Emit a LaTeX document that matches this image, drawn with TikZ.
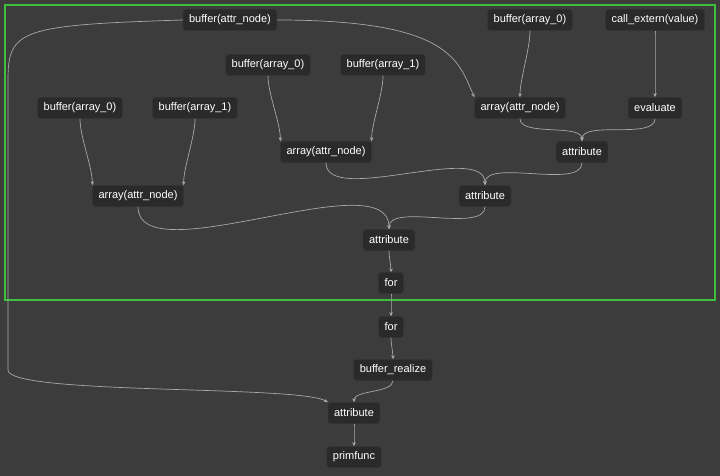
\documentclass[tikz,border=0pt]{standalone}
\usepackage{fontspec}
\setmainfont{Liberation Sans}
\usetikzlibrary{arrows.meta}
\definecolor{bg}{HTML}{3C3C3C}
\definecolor{nd}{HTML}{2A2A2A}
\definecolor{ed}{HTML}{A8A8A8}
\definecolor{gr}{HTML}{3EC03E}
\begin{document}
\begin{tikzpicture}[x=1pt,y=-1pt,
  n/.style={draw=black!80,fill=nd,rounded corners=3pt,text=white!90,font=\fontsize{11}{13}\selectfont,inner xsep=6pt,minimum height=21pt,inner ysep=2pt},
  e/.style={draw=ed,line width=0.7pt,-{Stealth[length=4pt,width=3.5pt]}},
  c/.style={e,out=-90,in=90,looseness=0.7}]
\fill[bg] (0,0) rectangle (720,476);
\useasboundingbox (0,0) rectangle (720,476);
\draw[gr,line width=1.6pt] (5,5) rectangle (715,300);
\node[n] (ba) at (230,20) {buffer(attr\_node)};
\node[n] (b0r) at (530,20) {buffer(array\_0)};
\node[n] (ce) at (655,20) {call\_extern(value)};
\node[n] (b0m) at (268,65) {buffer(array\_0)};
\node[n] (b1m) at (383,65) {buffer(array\_1)};
\node[n] (b0l) at (80,108) {buffer(array\_0)};
\node[n] (b1l) at (195,108) {buffer(array\_1)};
\node[n] (ar) at (520,108) {array(attr\_node)};
\node[n] (ev) at (655,108) {evaluate};
\node[n] (am) at (326,152) {array(attr\_node)};
\node[n] (atr) at (582,152) {attribute};
\node[n] (al) at (138,196) {array(attr\_node)};
\node[n] (atm) at (485,196) {attribute};
\node[n] (atc) at (389,240) {attribute};
\node[n] (f1) at (391,283) {for};
\node[n] (f2) at (391,327) {for};
\node[n] (br) at (393,370) {buffer\_realize};
\node[n] (atb) at (354,413) {attribute};
\node[n] (pf) at (354,457) {primfunc};
\draw[e] (ba.east) .. controls (450,20) and (458,60) .. (ar.north west);
\draw[e] (ba.west) .. controls (20,25) and (8,30) .. (8,80) -- (8,370) .. controls (8,395) and (300,385) .. (atb.north west);
\draw[c] (b0r) to (ar);
\draw[c] (ce) to (ev);
\draw[c] (b0m) to (am.north west);
\draw[c] (b1m) to (am.north east);
\draw[c] (b0l) to (al.north west);
\draw[c] (b1l) to (al.north east);
\draw[c] (ar) to (atr);
\draw[c] (ev) to (atr);
\draw[c] (am) to (atm);
\draw[c] (atr) to (atm);
\draw[c] (al) to (atc);
\draw[c] (atm) to (atc);
\draw[c] (atc) to (f1);
\draw[c] (f1) to (f2);
\draw[c] (f2) to (br);
\draw[c] (br) to (atb);
\draw[c] (atb) to (pf);
\end{tikzpicture}
\end{document}
